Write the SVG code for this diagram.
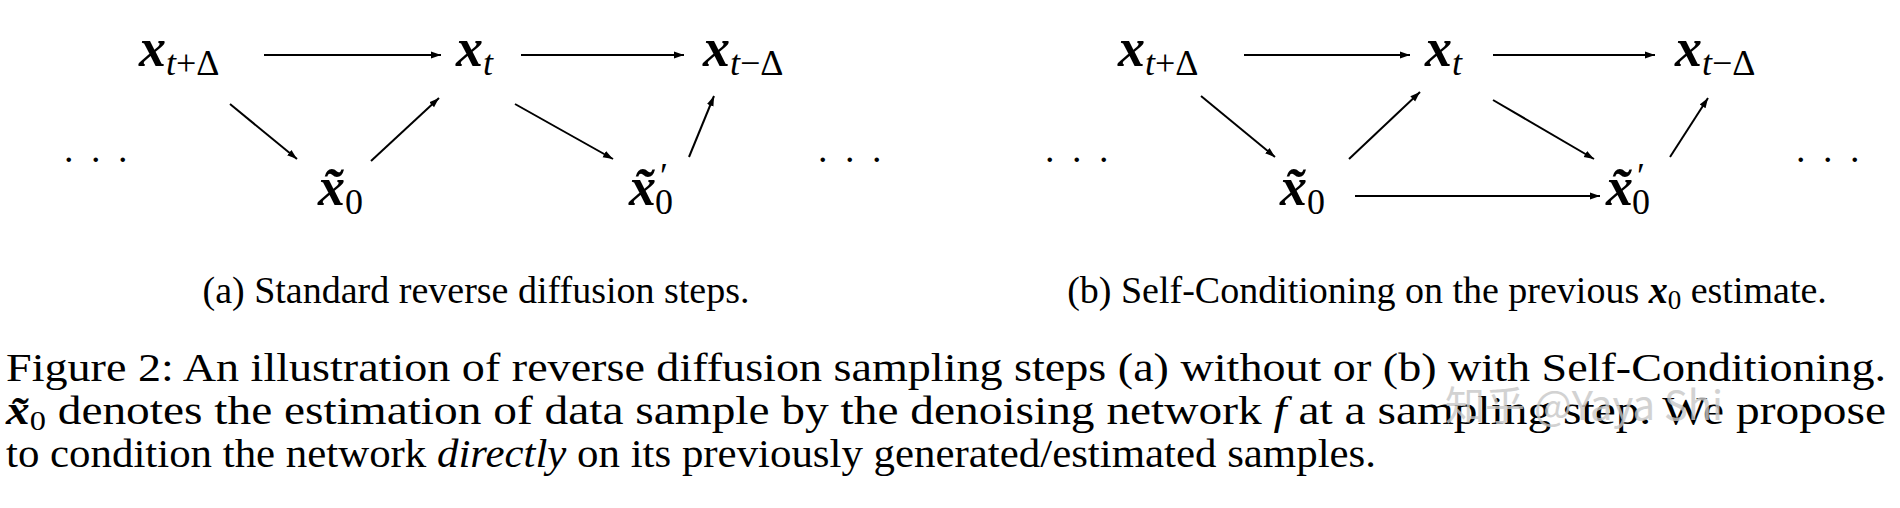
<svg xmlns="http://www.w3.org/2000/svg" width="1900" height="508" viewBox="0 0 1900 508">
<style>
text{font-family:"Liberation Serif","DejaVu Serif",serif;fill:#000}
.v{font-size:54px;font-weight:bold;font-style:italic}
.s{font-size:36px;font-style:italic;font-weight:normal}
.r{font-size:36px;font-style:normal;font-weight:normal}
.cap{font-size:38px}
.p{font-size:41px}
.c line{stroke:#000;stroke-width:2;marker-end:url(#a)}
</style>
<defs><marker id="a" viewBox="0 0 10 10" refX="10" refY="5" markerWidth="10" markerHeight="10" orient="auto" markerUnits="userSpaceOnUse"><path d="M0,1.5L10,5L0,8.5z"/></marker></defs>
<g id="a-xtpd"><text x="139" y="66" class="v">x<tspan class="s" dy="9">t</tspan><tspan class="r">+Δ</tspan></text></g>
<g id="a-xt"><text x="456" y="66" class="v">x<tspan class="s" dy="9">t</tspan></text></g>
<g id="a-xtmd"><text x="703" y="66" class="v">x<tspan class="s" dy="9">t</tspan><tspan class="r">−Δ</tspan></text></g>
<g id="a-x0"><text x="318" y="205" class="v">x&#x303;<tspan class="r" dy="9">0</tspan></text></g>
<g id="a-x0p"><text x="629" y="205" class="v">x&#x303;<tspan class="r" dx="4" dy="-17">′</tspan><tspan class="r" dx="-13" dy="26">0</tspan></text></g>
<g id="a-dl"><text x="64" y="162" class="cap" letter-spacing="4">. . .</text></g>
<g id="a-dr"><text x="818" y="162" class="cap" letter-spacing="4">. . .</text></g>
<g id="b-xtpd"><text x="1118" y="66" class="v">x<tspan class="s" dy="9">t</tspan><tspan class="r">+Δ</tspan></text></g>
<g id="b-xt"><text x="1425" y="66" class="v">x<tspan class="s" dy="9">t</tspan></text></g>
<g id="b-xtmd"><text x="1675" y="66" class="v">x<tspan class="s" dy="9">t</tspan><tspan class="r">−Δ</tspan></text></g>
<g id="b-x0"><text x="1280" y="205" class="v">x&#x303;<tspan class="r" dy="9">0</tspan></text></g>
<g id="b-x0p"><text x="1606" y="205" class="v">x&#x303;<tspan class="r" dx="4" dy="-17">′</tspan><tspan class="r" dx="-13" dy="26">0</tspan></text></g>
<g id="b-dl"><text x="1045" y="162" class="cap" letter-spacing="4">. . .</text></g>
<g id="b-dr"><text x="1796" y="162" class="cap" letter-spacing="4">. . .</text></g>
<g class="c" id="connectors">
<line x1="264" y1="55" x2="441" y2="55"/>
<line x1="521" y1="55" x2="684" y2="55"/>
<line x1="230" y1="104" x2="297" y2="159"/>
<line x1="371" y1="161" x2="439" y2="98"/>
<line x1="515" y1="104" x2="613" y2="159"/>
<line x1="689" y1="157" x2="714" y2="96"/>
<line x1="1244" y1="55" x2="1410" y2="55"/>
<line x1="1493" y1="55" x2="1655" y2="55"/>
<line x1="1201" y1="96" x2="1275" y2="157"/>
<line x1="1349" y1="159" x2="1420" y2="92"/>
<line x1="1493" y1="100" x2="1594" y2="159"/>
<line x1="1670" y1="157" x2="1708" y2="98"/>
<line x1="1355" y1="196" x2="1600" y2="196"/>
</g>
<g id="captions">
<text x="476" y="303" class="cap" text-anchor="middle">(a) Standard reverse diffusion steps.</text>
<text x="1447" y="303" class="cap" text-anchor="middle">(b) Self-Conditioning on the previous <tspan font-weight="bold" font-style="italic">x</tspan><tspan font-size="27" dy="6">0</tspan><tspan dy="-6"> estimate.</tspan></text>
<text x="6" y="381" class="p" textLength="1880" lengthAdjust="spacingAndGlyphs">Figure 2: An illustration of reverse diffusion sampling steps (a) without or (b) with Self-Conditioning.</text>
<text x="6" y="424" class="p" textLength="1880" lengthAdjust="spacingAndGlyphs"><tspan font-weight="bold" font-style="italic">x&#x303;</tspan><tspan font-size="28" dy="6">0</tspan><tspan dy="-6"> denotes the estimation of data sample by the denoising network </tspan><tspan font-style="italic">f</tspan> at a sampling step. We propose</text>
<text x="6" y="467" class="p" textLength="1370" lengthAdjust="spacingAndGlyphs">to condition the network <tspan font-style="italic">directly</tspan> on its previously generated/estimated samples.</text>
<text x="1445" y="420" font-size="40" style="fill:#c8c8c8;font-family:'Noto Sans CJK SC','Liberation Sans',sans-serif" opacity="0.8">知乎 @Yaya Shi</text>
</g>
</svg>
